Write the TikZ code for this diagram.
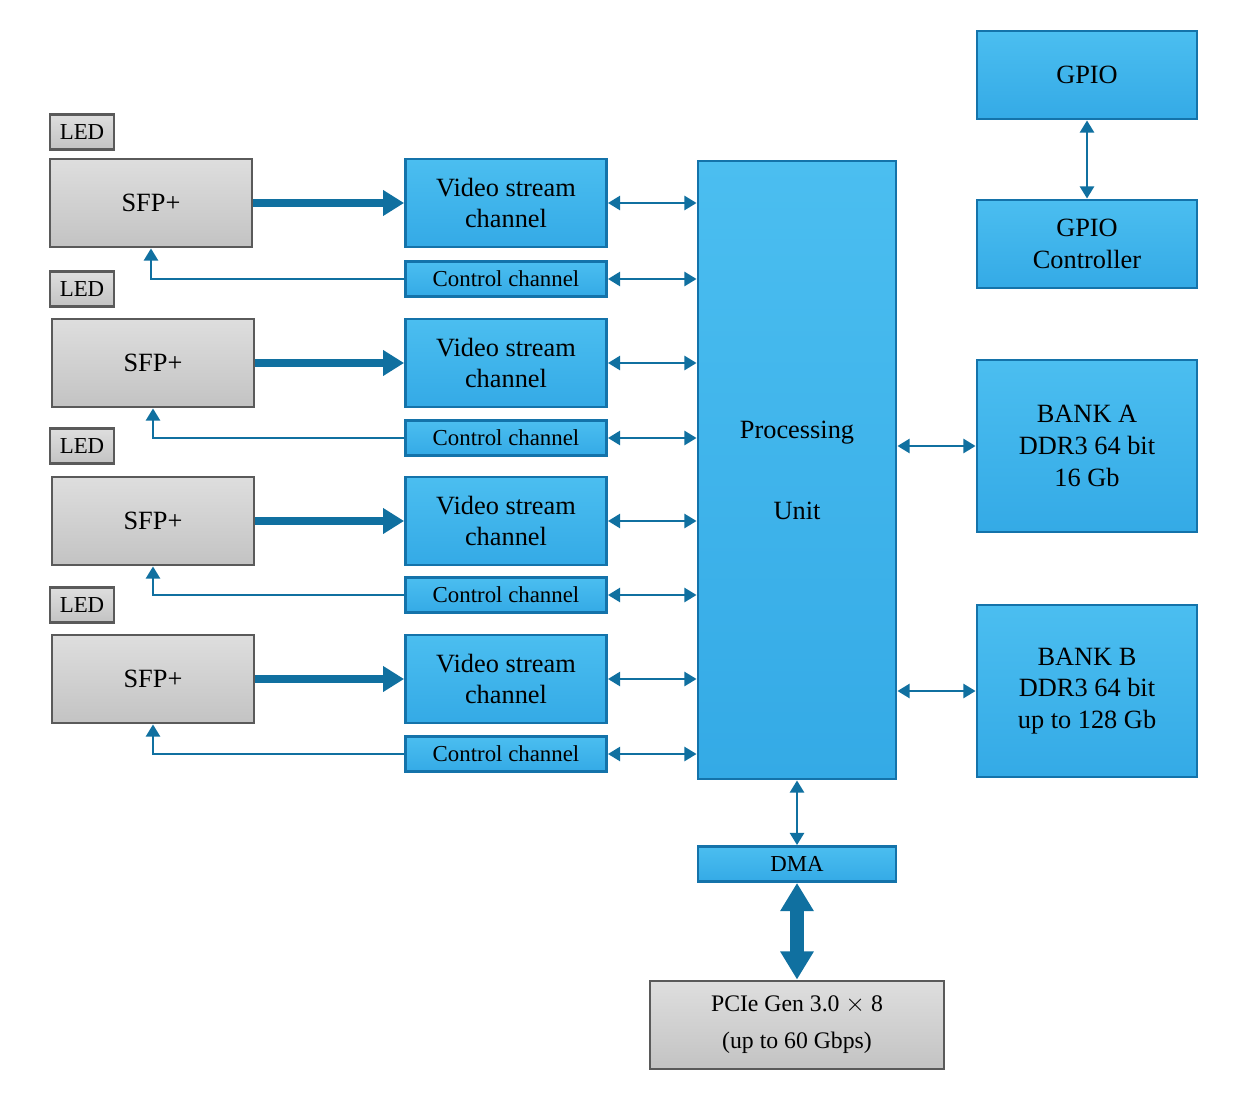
\documentclass[tikz,border=0pt]{standalone}
\usepackage{fontspec}
\setmainfont{Liberation Serif}
\usetikzlibrary{arrows.meta}
\definecolor{boxblue}{RGB}{52,170,230}
\definecolor{boxblueL}{RGB}{75,190,240}
\definecolor{edgeblue}{RGB}{20,115,170}
\definecolor{arrblue}{RGB}{16,112,160}
\definecolor{grayL}{RGB}{222,222,222}
\definecolor{grayD}{RGB}{195,195,195}
\definecolor{edgegray}{RGB}{90,90,90}
\tikzset{
  sz/.style 2 args={minimum width=#1*0.02cm, minimum height=#2*0.02cm},
  blk/.style={draw=edgeblue, line width=1.6pt, top color=boxblueL, bottom color=boxblue,
    inner sep=0pt, align=center, font=\fontsize{15}{18}\selectfont},
  gry/.style={draw=edgegray, line width=1.6pt, top color=grayL, bottom color=grayD,
    inner sep=0pt, align=center, font=\fontsize{15}{18}\selectfont},
  small/.style={font=\fontsize{13}{15}\selectfont},
  link/.style={draw=arrblue, line width=1.6pt, {Triangle[length=7pt,width=8pt]}-{Triangle[length=7pt,width=8pt]}},
  feed/.style={draw=arrblue, line width=1.6pt, -{Triangle[length=7pt,width=8pt]}},
  wide/.style={draw=arrblue, line width=4.5pt, -{Triangle[length=12pt,width=14pt]}},
  bus/.style={draw=arrblue, line width=8pt, {Triangle[length=16pt,width=18pt]}-{Triangle[length=16pt,width=18pt]}}
}
\begin{document}
\begin{tikzpicture}[x=0.02cm, y=-0.02cm]
  \useasboundingbox (0,0) rectangle (1250,1111);

  % central blocks
  \node[blk, sz={198}{618}] (pu) at (797,470) {Processing\\[28pt]Unit};
  \node[blk, sz={198}{35}, small] (dma) at (797,864) {DMA};
  \node[gry, sz={294}{88}, small, font=\fontsize{13.5}{21}\selectfont] (pcie) at (797,1025) {PCIe Gen 3.0 $\times$ 8\\(up to 60 Gbps)};

  % right side
  \node[blk, sz={220}{88}] (gpio) at (1087,75) {GPIO};
  \node[blk, sz={220}{88}] (gctl) at (1087,244) {GPIO\\Controller};
  \node[blk, sz={220}{172}] (banka) at (1087,446) {BANK A\\DDR3 64 bit\\16 Gb};
  \node[blk, sz={220}{172}] (bankb) at (1087,691) {BANK B\\DDR3 64 bit\\up to 128 Gb};

  % input channels
  \foreach \i/\vy/\cy/\sx/\ly in {1/203/279/151/132, 2/363/438/153/289, 3/521/595/153/446, 4/679/754/153/605}{
    \node[gry, sz={202}{88}] (sfp\i) at (\sx,\vy) {SFP+};
    \node[gry, sz={64}{35}, small] (led\i) at (82,\ly) {LED};
    \node[blk, sz={201}{88}] (vid\i) at (506,\vy) {Video stream\\channel};
    \node[blk, sz={201}{35}, small] (ctl\i) at (506,\cy) {Control channel};
    \draw[wide] (sfp\i.east) -- (vid\i.west);
    \draw[link] (vid\i.east) -- (vid\i.east -| pu.west);
    \draw[link] (ctl\i.east) -- (ctl\i.east -| pu.west);
    \draw[feed] (ctl\i.west) -| (sfp\i.south);
  }

  \draw[link] (gpio) -- (gctl);
  \draw[link] (pu.east |- banka) -- (banka.west);
  \draw[link] (pu.east |- bankb) -- (bankb.west);
  \draw[link] (pu) -- (dma);
  \draw[bus] (dma) -- (pcie);
\end{tikzpicture}
\end{document}
